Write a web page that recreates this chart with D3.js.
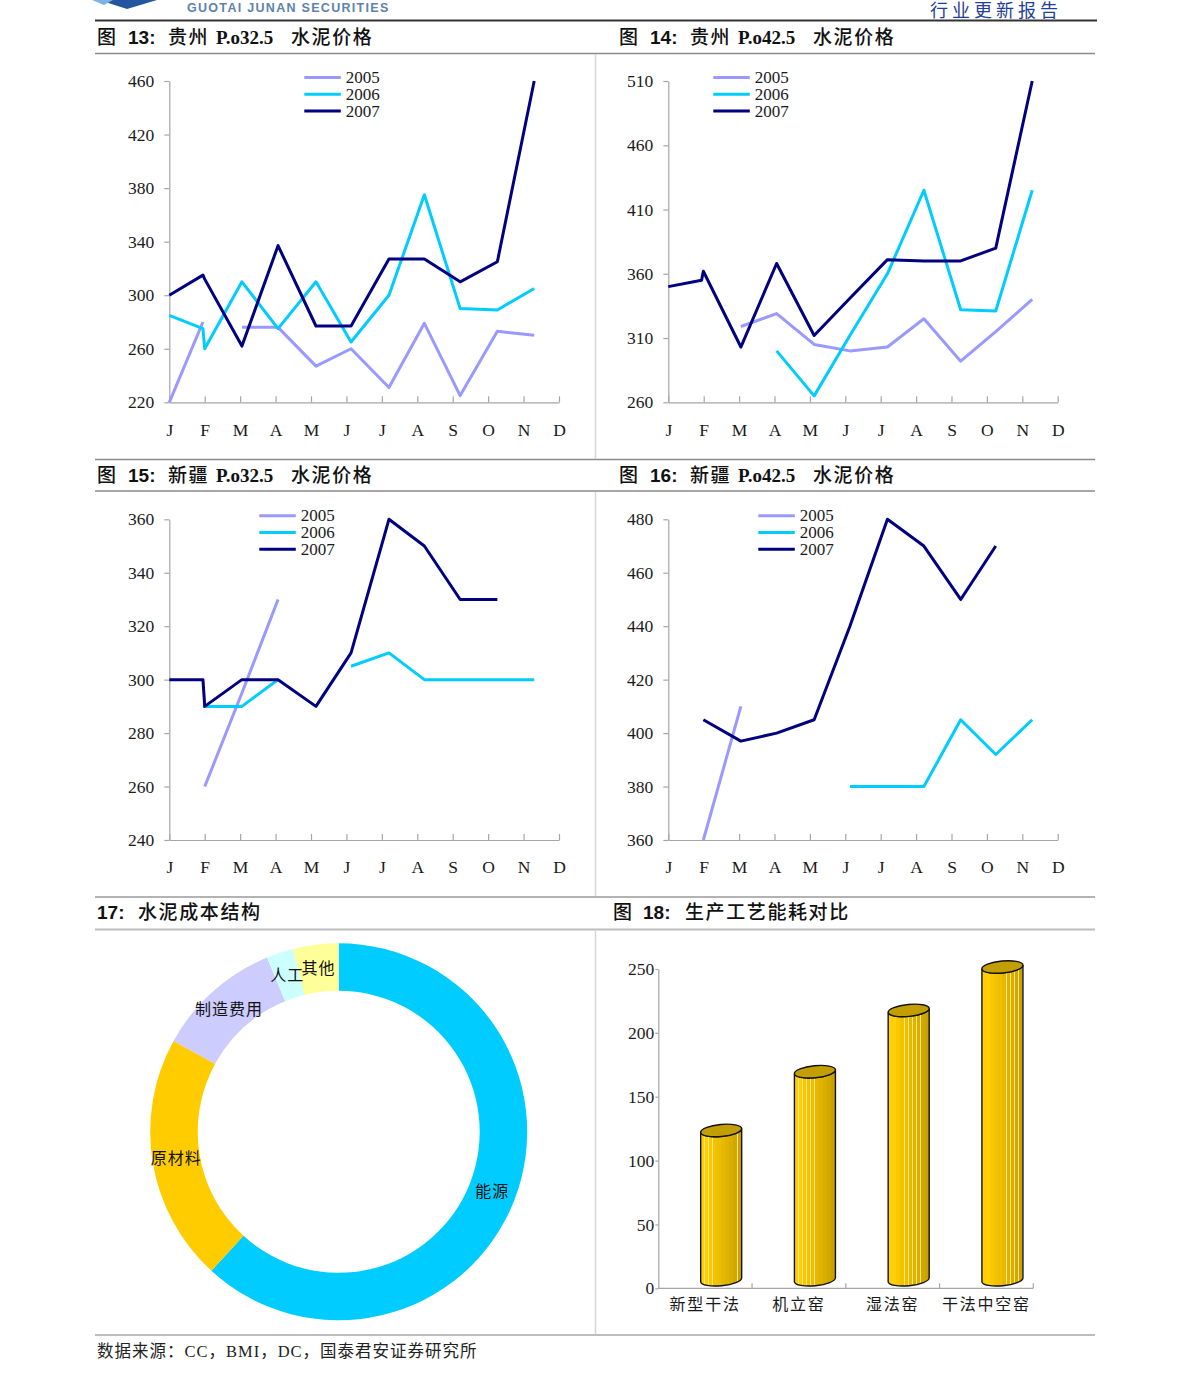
<!DOCTYPE html>
<html><head><meta charset="utf-8">
<script src="https://cdn.jsdelivr.net/npm/d3@7"></script>
<style>body{margin:0;background:#fff}svg{display:block}</style>
</head><body>
<svg id="c" width="1191" height="1381"></svg>
<script>
// ---------------- DATA ----------------
const months = ["J","F","M","A","M","J","J","A","S","O","N","D"];
const years = ["2005","2006","2007"];
const yearColors = ["#9999FF","#00CCFF","#000080"];

// 贵州 P.o32.5
const gz325Pos  = [0, 0.95, 1.0, 2.05, 3.07, 4.14, 5.13, 6.2, 7.2, 8.21, 9.26, 10.3];
const gz325_2005 = [220, 280, null, 276, 276, 247, 260, 231, 279, 225, 273, 270];
const gz325_2006 = [285, 275, 260, 310, 275, 310, 265, 300, 375, 290, 289, 305];
const gz325_2007 = [300, 315, 312, 262, 337, 277, 277, 327, 327, 310, 325, 460];
const gz325Ticks = [220, 260, 300, 340, 380, 420, 460];

// 贵州 P.o42.5
const gz425Pos  = [0, 0.94, 0.99, 2.05, 3.06, 4.12, 5.13, 6.19, 7.22, 8.26, 9.25, 10.28];
const gz425_2005 = [null, null, null, 319, 329, 305, 300, 303, 325, 292, 315, 340];
const gz425_2006 = [null, null, null, null, 300, 265, 312, 360, 425, 332, 331, 425];
const gz425_2007 = [350, 355, 362, 303, 368, 312, 341, 371, 370, 370, 380, 510];
const gz425Ticks = [260, 310, 360, 410, 460, 510];

// 新疆 P.o32.5
const xj325Pos  = [0, 0.95, 1.0, 2.05, 3.07, 4.14, 5.13, 6.2, 7.2, 8.21, 9.26, 10.3];
const xj325_2005 = [null, null, 260, 295, 330, null, null, null, null, null, null, null];
const xj325_2006 = [null, 290, 290, 290, 300, null, 305, 310, 300, 300, 300, 300];
const xj325_2007 = [300, 300, 290, 300, 300, 290, 310, 360, 350, 330, 330, null];
const xj325Ticks = [240, 260, 280, 300, 320, 340, 360];

// 新疆 P.o42.5
const xj425Pos  = [0, 0.94, 0.99, 2.05, 3.06, 4.12, 5.13, 6.19, 7.22, 8.26, 9.25, 10.28];
const xj425_2005 = [null, null, 360, 410, null, null, null, null, null, null, null, null];
const xj425_2006 = [null, null, null, null, null, null, 380, 380, 380, 405, 392, 405];
const xj425_2007 = [null, null, 405, 397, 400, 405, 440, 480, 470, 450, 470, null];
const xj425Ticks = [360, 380, 400, 420, 440, 460, 480];

// 水泥成本结构
const costLabels = ["能源", "原材料", "制造费用", "人工", "其他"];
const costValues = [61.8, 21.2, 10.8, 2.3, 3.9];
const costColors = ["#00CCFF", "#FFCC00", "#CCCCFF", "#CCFFFF", "#FFFF99"];

// 生产工艺能耗对比
const processLabels = ["新型干法", "机立窑", "湿法窑", "干法中空窑"];
const processValues = [122, 168, 216, 250];
const energyTicks = [0, 50, 100, 150, 200, 250];

// ---------------- DRAW ----------------
const svg = d3.select("#c");
const CJK = "'Noto Sans CJK SC', sans-serif";
const SERIF = "'Liberation Serif', 'Times New Roman', serif";
const SANS = "'Liberation Sans', Arial, sans-serif";
const AXIS = "#a6a6a6";

// header
svg.append("path").attr("d","M99,0 L127,9 L157,0 Z").attr("fill","#24559f");
svg.append("path").attr("d","M92,0 L104,5 L113,0 Z").attr("fill","#7db3e3");
svg.append("text").attr("x",187).attr("y",11.5).attr("font-family",SANS).attr("font-weight","bold")
  .attr("font-size",12.5).attr("letter-spacing",1.3).attr("fill","#5d82ad").text("GUOTAI JUNAN SECURITIES");
svg.append("text").attr("x",930).attr("y",17).attr("font-family",CJK).attr("font-size",18)
  .attr("letter-spacing",4).attr("fill","#1f3f99").text("行业更新报告");

function hline(y, x1, x2, color, w){
  svg.append("line").attr("x1",x1).attr("x2",x2).attr("y1",y).attr("y2",y).attr("stroke",color).attr("stroke-width",w);
}
function vline(x, y1, y2, color, w){
  svg.append("line").attr("x1",x).attr("x2",x).attr("y1",y1).attr("y2",y2).attr("stroke",color).attr("stroke-width",w);
}
hline(20.5, 95, 1097, "#333", 2);
hline(53.5, 95, 1095, "#8a8a8a", 1.5);
hline(459.5, 95, 1095, "#8a8a8a", 1.5);
hline(491, 95, 1095, "#8a8a8a", 1.5);
hline(897, 95, 1095, "#9a9a9a", 1.5);
hline(929.5, 95, 1095, "#bdbdbd", 2);
hline(1335, 95, 1095, "#bdbdbd", 2);
vline(595.5, 54, 459, "#d6d6d6", 1.5);
vline(595.5, 492, 896, "#d6d6d6", 1.5);
vline(595.5, 931, 1334, "#d6d6d6", 1.5);

// titles: pieces [text, x, kind]
function title(y, parts){
  const t = svg.append("text").attr("y", y).attr("fill","#111");
  parts.forEach(([s, x, kind]) => {
    const ts = t.append("tspan").attr("x", x).text(s);
    if(kind === "num") ts.attr("font-family",SANS).attr("font-weight","bold").attr("font-size",19);
    else if(kind === "po") ts.attr("font-family",SERIF).attr("font-weight","bold").attr("font-size",19);
    else ts.attr("font-family",CJK).attr("font-weight",500).attr("font-size",19).attr("letter-spacing",1.6);
  });
}
title(44, [["图",97,"cjk"],["13:",128,"num"],["贵州",168,"cjk"],["P.o32.5",216,"po"],["水泥价格",291,"cjk"]]);
title(44, [["图",619,"cjk"],["14:",650,"num"],["贵州",690,"cjk"],["P.o42.5",738,"po"],["水泥价格",813,"cjk"]]);
title(482, [["图",97,"cjk"],["15:",128,"num"],["新疆",168,"cjk"],["P.o32.5",216,"po"],["水泥价格",291,"cjk"]]);
title(482, [["图",619,"cjk"],["16:",650,"num"],["新疆",690,"cjk"],["P.o42.5",738,"po"],["水泥价格",813,"cjk"]]);
title(919, [["17:",97,"num"],["水泥成本结构",138,"cjk"]]);
title(919, [["图",613,"cjk"],["18:",643,"num"],["生产工艺能耗对比",685,"cjk"]]);

// line charts
function lineChart(cfg){
  const g = svg.append("g");
  const x = d3.scaleLinear().domain([0, 11]).range([cfg.x0, cfg.x1]);
  const y = d3.scaleLinear().domain([cfg.ticks[0], cfg.ticks[cfg.ticks.length-1]]).range([cfg.yBot, cfg.yTop]);

  const ya = g.append("g").attr("transform",`translate(${cfg.x0},0)`)
    .call(d3.axisLeft(y).tickValues(cfg.ticks).tickSize(5).tickSizeOuter(0).tickPadding(10));
  const xa = g.append("g").attr("transform",`translate(0,${cfg.yBot})`)
    .call(d3.axisBottom(x).tickValues(d3.range(12)).tickFormat(i => months[i])
      .tickSizeInner(-6).tickSizeOuter(0).tickPadding(21));
  [ya, xa].forEach(a => {
    a.selectAll("path,line").attr("stroke", AXIS).attr("stroke-width", 1.2);
    a.selectAll("text").attr("font-family", SERIF).attr("font-size", 17.5).attr("fill", "#1a1a1a");
  });

  const line = d3.line().defined(d => d[1] != null).x(d => x(d[0])).y(d => y(d[1]));
  cfg.series.forEach((vals, i) => {
    const pts = vals.map((v, k) => [cfg.pos[k], v]);
    g.append("path").attr("d", line(pts)).attr("fill","none")
      .attr("stroke", yearColors[i]).attr("stroke-width", 3).attr("stroke-linejoin","round");
  });

  const lg = g.append("g");
  years.forEach((yr, i) => {
    const ly = cfg.yTop - 3.6 + i * 16.8;
    lg.append("line").attr("x1", cfg.x0 + cfg.legDx).attr("x2", cfg.x0 + cfg.legDx + 36.5)
      .attr("y1", ly).attr("y2", ly).attr("stroke", yearColors[i]).attr("stroke-width", 3);
    lg.append("text").attr("x", cfg.x0 + cfg.legDx + 41.5).attr("y", ly).attr("dy","0.34em")
      .attr("font-family", SERIF).attr("font-size", 17).attr("fill","#1a1a1a").text(yr);
  });
}

lineChart({x0:169.3, x1:559, yTop:81, yBot:402.3, ticks:gz325Ticks, pos:gz325Pos,
  series:[gz325_2005, gz325_2006, gz325_2007], legDx:135});
lineChart({x0:668.3, x1:1057.7, yTop:81, yBot:402.3, ticks:gz425Ticks, pos:gz425Pos,
  series:[gz425_2005, gz425_2006, gz425_2007], legDx:45});
lineChart({x0:169.3, x1:559, yTop:519.3, yBot:840, ticks:xj325Ticks, pos:xj325Pos,
  series:[xj325_2005, xj325_2006, xj325_2007], legDx:90});
lineChart({x0:668.3, x1:1057.7, yTop:519.3, yBot:840, ticks:xj425Ticks, pos:xj425Pos,
  series:[xj425_2005, xj425_2006, xj425_2007], legDx:90});

// donut
{
  const cx = 338.7, cy = 1131.8;
  const arc = d3.arc().innerRadius(141).outerRadius(188.5);
  const pie = d3.pie().sort(null).value(d => d)(costValues);
  const g = svg.append("g").attr("transform",`translate(${cx},${cy})`);
  g.selectAll("path").data(pie).join("path").attr("d", arc).attr("fill", (d,i) => costColors[i]);
  g.selectAll("text").data(pie).join("text")
    .attr("transform", d => `translate(${arc.centroid(d)})`)
    .attr("text-anchor","middle").attr("dy","0.36em")
    .attr("font-family", CJK).attr("font-size", 16).attr("letter-spacing", 1).attr("fill","#111")
    .text((d,i) => costLabels[i]);
}

// cylinder bars
{
  const x0 = 658.3, x1 = 1033.3, yB = 1288.3, yT = 969;
  const xb = d3.scaleBand().domain(processLabels).range([x0, x1]);
  const y = d3.scaleLinear().domain([0, 250]).range([yB, yT]);
  const g = svg.append("g");

  const defs = svg.append("defs");
  const grad = defs.append("linearGradient").attr("id","cyl").attr("x1",0).attr("x2",1).attr("y1",0).attr("y2",0);
  const bands = ["#FFD000","#FFCF0A","#F9C900","#F2C300","#EDBF00","#E6B900","#DFB300","#D8AE00","#D1A800","#C9A200"];
  bands.forEach((c, i) => {
    grad.append("stop").attr("offset", i / bands.length).attr("stop-color", c);
    grad.append("stop").attr("offset", (i + 1) / bands.length - 0.012).attr("stop-color", c);
    grad.append("stop").attr("offset", (i + 1) / bands.length - 0.012).attr("stop-color", "#FFE680");
    grad.append("stop").attr("offset", (i + 1) / bands.length).attr("stop-color", "#FFE680");
  });

  const ya = g.append("g").attr("transform",`translate(${x0},0)`)
    .call(d3.axisLeft(y).tickValues(energyTicks).tickSize(3).tickSizeOuter(0).tickPadding(1));
  ya.selectAll("path,line").attr("stroke", AXIS).attr("stroke-width", 1.2);
  ya.selectAll("text").attr("font-family", SERIF).attr("font-size", 17.5).attr("fill","#1a1a1a");
  g.append("line").attr("x1", x0).attr("x2", x1).attr("y1", yB).attr("y2", yB).attr("stroke", AXIS).attr("stroke-width", 1.2);
  g.selectAll(".bt").data(processLabels).join("line").attr("class","bt")
    .attr("x1", d => xb(d) + xb.bandwidth()).attr("x2", d => xb(d) + xb.bandwidth())
    .attr("y1", yB).attr("y2", yB - 5).attr("stroke", AXIS).attr("stroke-width", 1.2);
  g.selectAll(".bl").data(processLabels).join("text").attr("class","bl")
    .attr("x", d => xb(d) + xb.bandwidth() / 2).attr("y", 1304).attr("dy","0.36em")
    .attr("text-anchor","middle").attr("font-family", CJK).attr("font-size", 16)
    .attr("letter-spacing", 1.8).attr("fill","#1a1a1a").text(d => d);

  const w = 41, rx = 20.6, ry = 6, tilt = 4, rot = -5.6, dx = 16, dy = 6.5;
  processLabels.forEach((c, i) => {
    const cxm = xb(c) + xb.bandwidth() / 2 + dx;
    const xl = cxm - w / 2, xr = cxm + w / 2;
    const top = y(processValues[i]);
    const bot = yB - dy;
    const body = `M${xl},${top} L${xl},${bot} A${rx},${ry} ${rot} 0 0 ${xr},${bot - tilt} ` +
                 `L${xr},${top - tilt} A${rx},${ry} ${rot} 0 1 ${xl},${top} Z`;
    g.append("path").attr("d", body).attr("fill","url(#cyl)").attr("stroke","#111").attr("stroke-width",1.4);
    g.append("ellipse").attr("cx", cxm).attr("cy", top - tilt / 2).attr("rx", rx).attr("ry", ry)
      .attr("transform", `rotate(${rot},${cxm},${top - tilt / 2})`)
      .attr("fill","#C39E00").attr("stroke","#111").attr("stroke-width",1.4);
  });
}

// footer
svg.append("text").attr("x", 97).attr("y", 1357).attr("font-family", `'Liberation Serif', 'Noto Sans CJK SC', serif`)
  .attr("font-size", 16.5).attr("letter-spacing", 1).attr("fill","#222").text("数据来源：CC，BMI，DC，国泰君安证券研究所");
</script>
</body></html>
